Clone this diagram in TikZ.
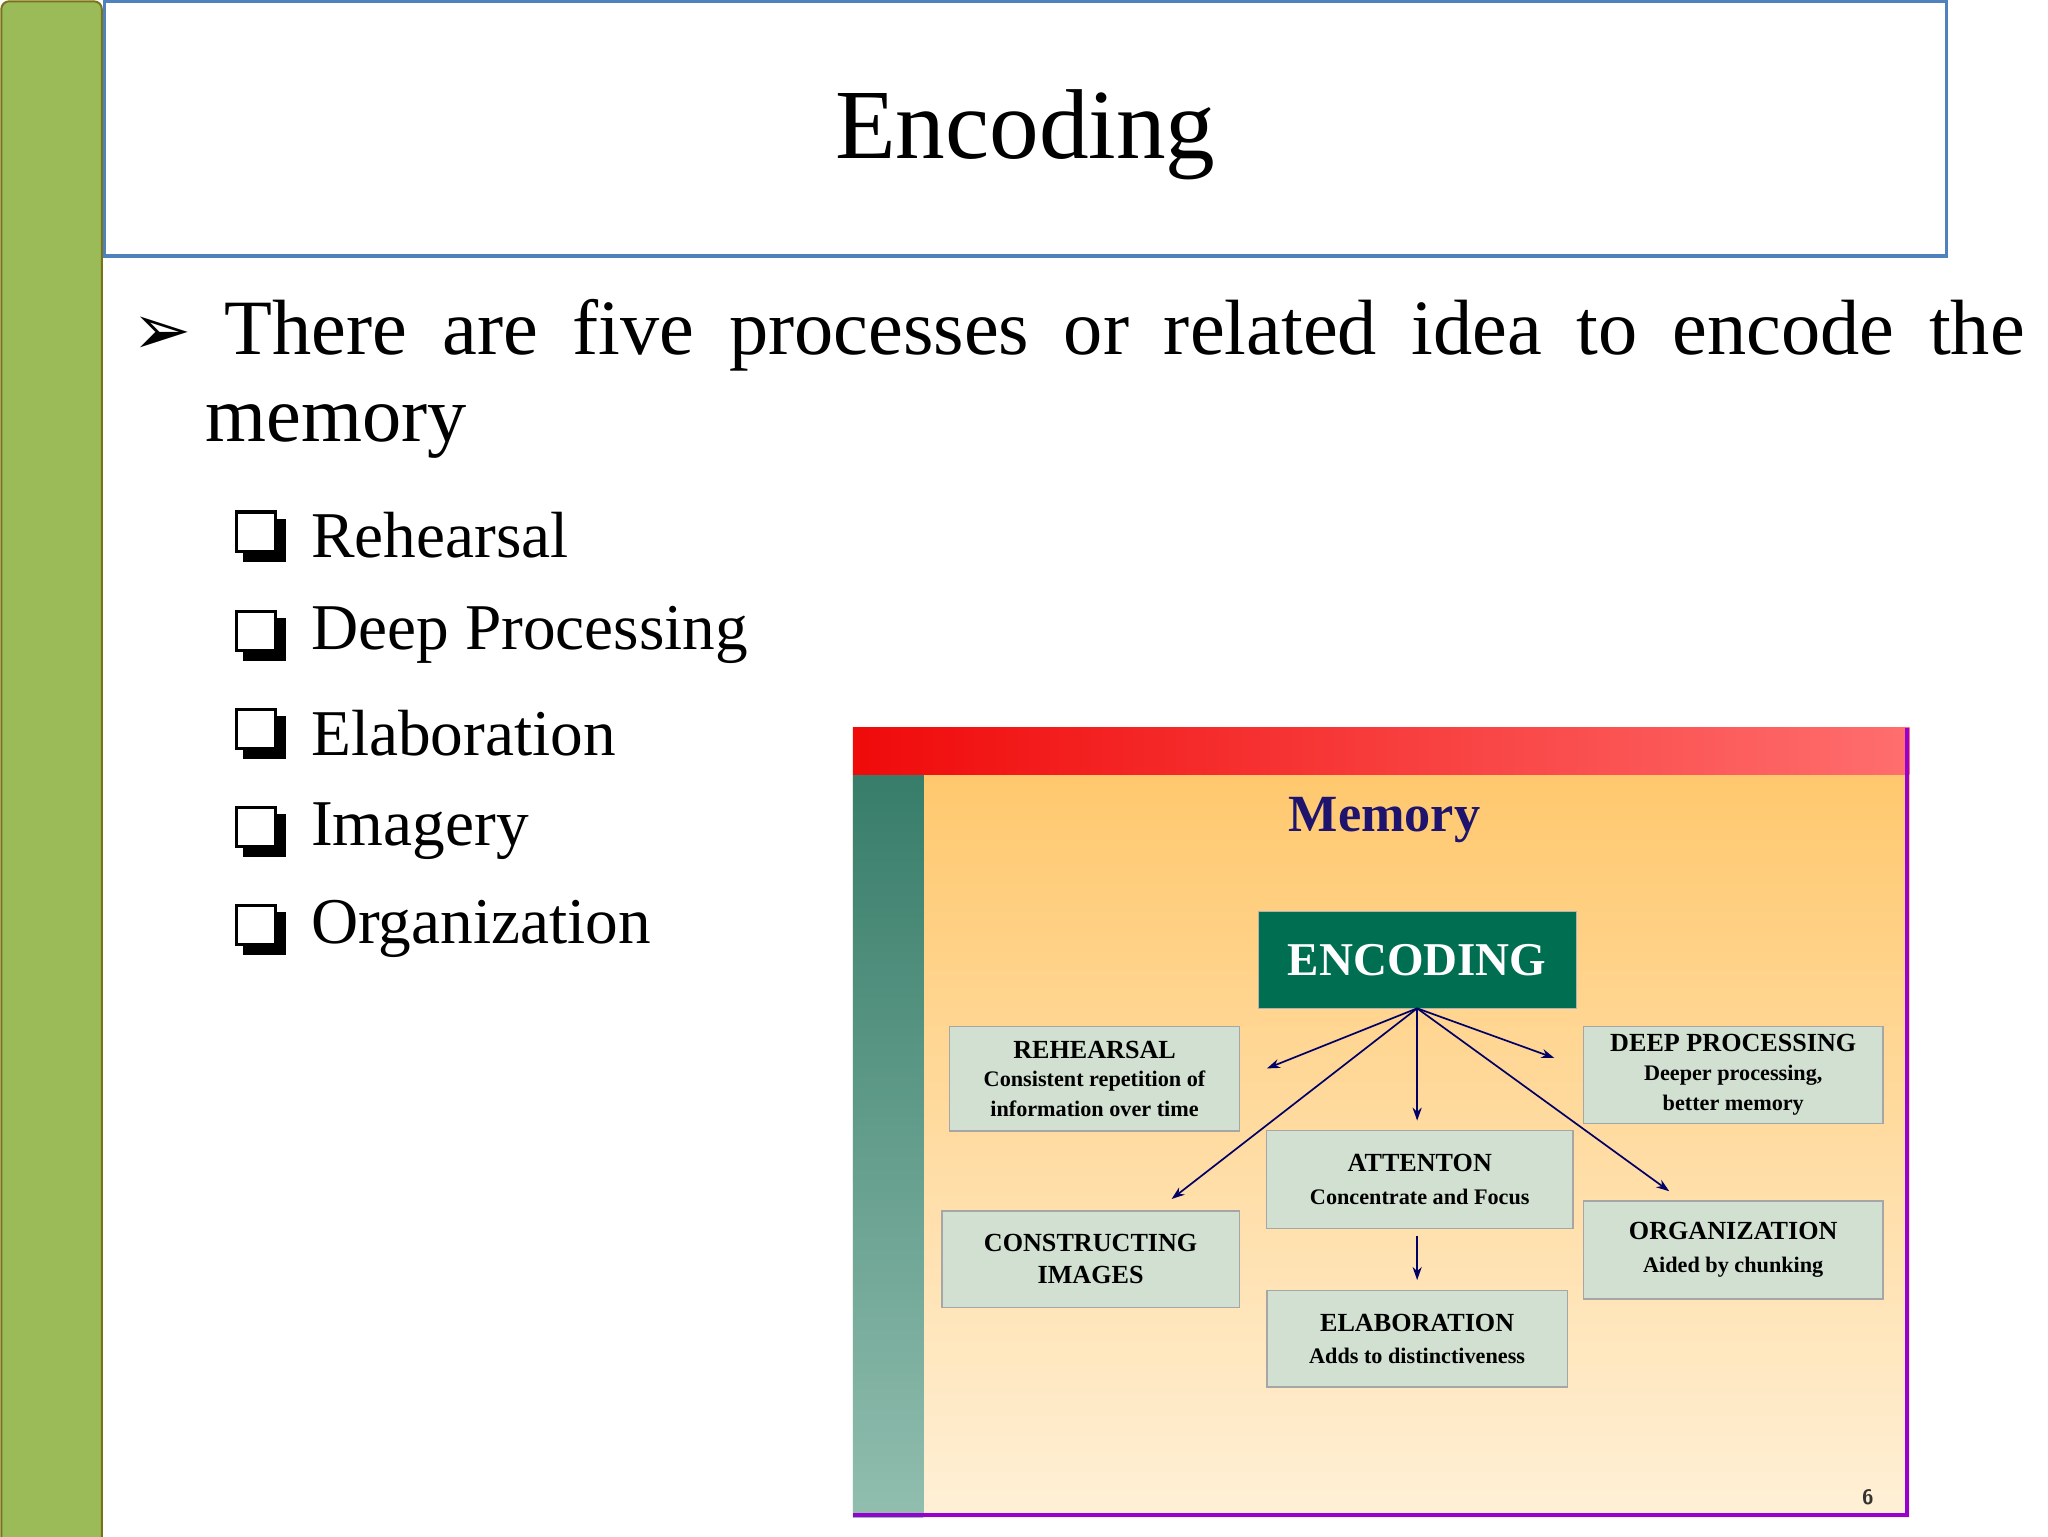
\documentclass[tikz,border=0pt]{standalone}
\usepackage{fontspec}
\usetikzlibrary{arrows.meta}
\setmainfont{Liberation Serif}
\newfontfamily\symf{DejaVu Sans}
\begin{document}
\begin{tikzpicture}[x=1pt,y=-1pt,
  gbox/.style={draw=gray!70,fill=green!20!gray!30!white,line width=1.2pt,font=\fontsize{20}{23}\selectfont\bfseries,align=center,inner sep=0pt},
  arr/.style={-{Stealth[length=10pt,width=7pt]},draw=blue!40!black,line width=1.3pt},
  item/.style={anchor=west,font=\fontsize{50}{55}\selectfont,inner sep=0pt}]
\useasboundingbox (0,0) rectangle (1568,1176);
\fill[white] (0,0) rectangle (1568,1176);
% green bar
\draw[draw=olive!80!black,line width=1.5pt,rounded corners=6pt,fill={rgb,255:red,155;green,187;blue,89}] (1,1) rectangle (78,1190);
% title
\draw[draw={rgb,255:red,79;green,129;blue,189},line width=2.5pt] (80,1) rectangle (1490,196);
\node[font=\fontsize{76}{80}\selectfont] (title) at (785,103) {Encoding};
% bullet
\node[anchor=west,inner sep=0pt,font=\symf\fontsize{54}{56}\selectfont] (arrowb) at (101,257) {➢};
\node[anchor=west,inner sep=0pt,font=\fontsize{60}{64}\selectfont] (l1) at (172,257) {\hbox to 1378pt{There\hfill are\hfill five\hfill processes\hfill or\hfill related\hfill idea\hfill to\hfill encode\hfill the}};
\node[anchor=west,inner sep=0pt,font=\fontsize{60}{64}\selectfont] (l2) at (157,330) {memory};
\foreach \t/\yy [count=\i] in {Rehearsal/410,Deep Processing/486,Elaboration/561,Imagery/636,Organization/711}{
  \fill[black] (186,\yy-13) rectangle (219,\yy+20);
  \draw[fill=white,line width=2.5pt] (181,\yy-18) rectangle (211,\yy+12);
  \node[item] (it\i) at (238,\yy) {\t};
}
% picture
\shade[top color={rgb,255:red,255;green,200;blue,110},bottom color={rgb,255:red,255;green,240;blue,215}] (653,593) rectangle (1462,1162);
\shade[top color={rgb,255:red,55;green,125;blue,105},bottom color={rgb,255:red,145;green,190;blue,175}] (653,593) rectangle (707,1162);
\shade[left color={rgb,255:red,240;green,10;blue,10},right color={rgb,255:red,255;green,110;blue,110}] (653,557) rectangle (1462,593);
\draw[draw={rgb,255:red,150;green,0;blue,210},line width=3pt] (1460,557) -- (1460,1160) -- (653,1160);
\node[font=\fontsize{40}{44}\selectfont\bfseries,text={rgb,255:red,30;green,20;blue,110}] (mem) at (1060,628) {Memory};
\node[fill={rgb,255:red,0;green,110;blue,80},draw=gray!60,minimum width=244pt,minimum height=74pt,inner sep=0pt,text=white,font=\fontsize{36}{40}\selectfont\bfseries] (enc) at (1085,735) {ENCODING};
\node[gbox,minimum width=222pt,minimum height=80pt] (reh) at (838,826) {REHEARSAL\\[-1pt]{\fontsize{17}{21}\selectfont Consistent repetition of}\\{\fontsize{17}{21}\selectfont information over time}};
\node[gbox,minimum width=229pt,minimum height=74pt] (deep) at (1327,823) {DEEP PROCESSING\\[-1pt]{\fontsize{17}{21}\selectfont Deeper processing,}\\{\fontsize{17}{21}\selectfont better memory}};
\node[gbox,minimum width=235pt,minimum height=75pt] (att) at (1087,903) {ATTENTON\\[2pt]{\fontsize{17}{21}\selectfont Concentrate and Focus}};
\node[gbox,minimum width=228pt,minimum height=74pt] (con) at (835,964) {CONSTRUCTING\\[2pt]IMAGES};
\node[gbox,minimum width=229pt,minimum height=75pt] (org) at (1327,957) {ORGANIZATION\\[2pt]{\fontsize{17}{21}\selectfont Aided by chunking}};
\node[gbox,minimum width=230pt,minimum height=74pt] (ela) at (1085,1025) {ELABORATION\\[2pt]{\fontsize{17}{21}\selectfont Adds to distinctiveness}};
\coordinate (e0) at (1085,772);
\coordinate (t1) at (970,818);
\coordinate (t2) at (1190,810);
\coordinate (t3) at (1085,858);
\coordinate (t4) at (897,918);
\coordinate (t5) at (1278,912);
\coordinate (a1) at (1085,946);
\coordinate (a2) at (1085,980);
\foreach \t in {t1,t2,t3,t4,t5} \draw[arr] (e0) -- (\t);
\draw[arr] (a1) -- (a2);
\node[font=\sffamily\bfseries\fontsize{16}{18}\selectfont,text=black!80] (num) at (1430,1146) {6};
\end{tikzpicture}
\end{document}
